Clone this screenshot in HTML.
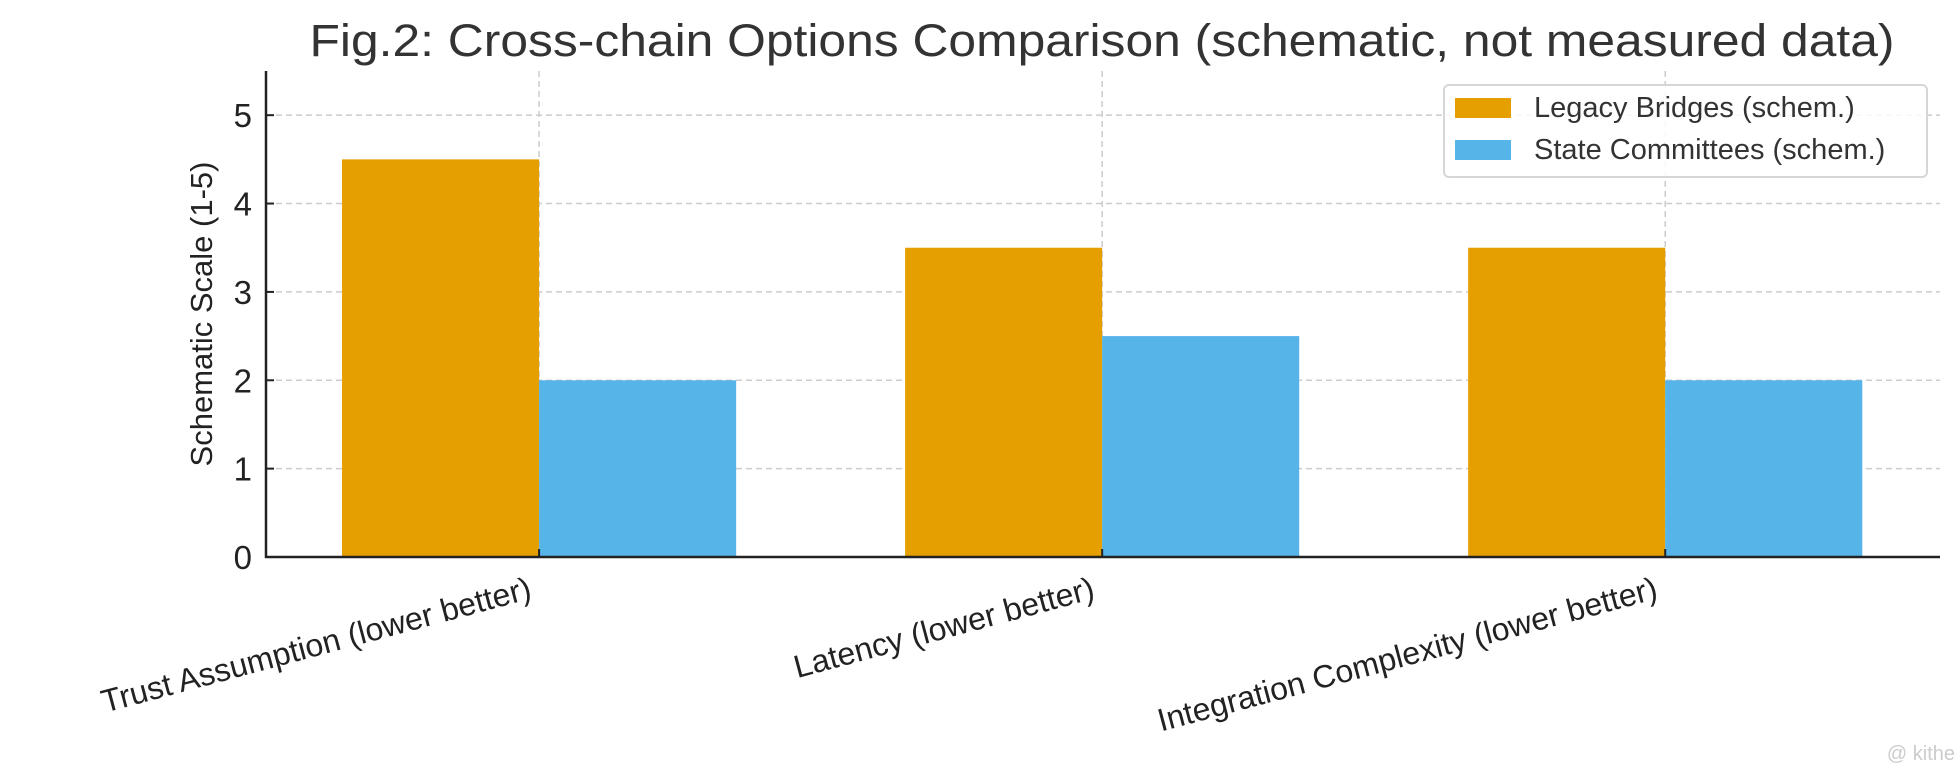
<!DOCTYPE html>
<html><head><meta charset="utf-8"><style>
html,body{margin:0;padding:0;background:#fff;}
svg{display:block;font-family:"Liberation Sans","DejaVu Sans",sans-serif;}
</style></head><body>
<svg id="chart" width="1959" height="780" viewBox="0 0 1959 780">
<text x="1102" y="56" text-anchor="middle" font-size="45" fill="#333" textLength="1585" lengthAdjust="spacingAndGlyphs">Fig.2: Cross-chain Options Comparison (schematic, not measured data)</text>
<g id="grid"></g>
<g id="bars"></g>
<g id="axes"></g>
<text transform="translate(212,314) rotate(-90)" text-anchor="middle" font-size="31" fill="#222">Schematic Scale (1-5)</text>
<g>
<rect x="1444" y="85" width="483" height="92" rx="5" fill="#fff" fill-opacity="0.85" stroke="#d6d6d6" stroke-width="2"/>
<rect x="1455" y="98" width="56" height="20" fill="#E69F00"/>
<text x="1534" y="117" font-size="29" fill="#333">Legacy Bridges (schem.)</text>
<rect x="1455" y="140" width="56" height="20" fill="#56B4E9"/>
<text x="1534" y="159" font-size="29" fill="#333">State Committees (schem.)</text>
</g>
<text x="1955" y="760" text-anchor="end" font-size="20" fill="#ccc">@ kithe</text>
</svg>
<script>
const categories = ["Trust Assumption (lower better)", "Latency (lower better)", "Integration Complexity (lower better)"];
const legacyValues = [4.5, 3.5, 3.5];
const stateValues = [2, 2.5, 2];
const yTicks = [0, 1, 2, 3, 4, 5];

const NS = "http://www.w3.org/2000/svg";
const X0 = 266, X1 = 1940, Y0 = 557, YTOP = 71;
const xMin = -0.485, xMax = 2.488, yMin = 0, yMax = 5.5;
const barW = 0.35;
function xs(v){ return X0 + (v - xMin) / (xMax - xMin) * (X1 - X0); }
function ys(v){ return Y0 - (v - yMin) / (yMax - yMin) * (Y0 - YTOP); }
function mk(tag, attrs, parent){ const e = document.createElementNS(NS, tag); for (const k in attrs) e.setAttribute(k, attrs[k]); parent.appendChild(e); return e; }

const grid = document.getElementById('grid');
const bars = document.getElementById('bars');
const axes = document.getElementById('axes');

yTicks.forEach(t => {
  if (t > 0) {
    const g = mk('line', {x1: X0, x2: X1, y1: ys(t), y2: ys(t), stroke: '#cccccc', 'stroke-width': 1.5, 'stroke-dasharray': '6,4'}, grid);
    
    
  }
  const tk = mk('line', {x1: X0, x2: X0 + 8, y1: ys(t), y2: ys(t), stroke: '#222', 'stroke-width': 2}, axes);
  
  
  const lb = mk('text', {x: X0 - 14, y: ys(t) + 12, 'text-anchor': 'end', 'font-size': 33, fill: '#222'}, axes);
  lb.textContent = t;
  
  
});

categories.forEach((c, i) => {
  const gl = mk('line', {x1: xs(i), x2: xs(i), y1: YTOP, y2: Y0, stroke: '#cccccc', 'stroke-width': 1.5, 'stroke-dasharray': '6,4'}, grid);
  
  
  const b1 = mk('rect', {x: xs(i - barW), y: ys(legacyValues[i]), width: xs(i) - xs(i - barW), height: ys(0) - ys(legacyValues[i]), fill: '#E69F00'}, bars);
  
  
  const b2 = mk('rect', {x: xs(i), y: ys(stateValues[i]), width: xs(i + barW) - xs(i), height: ys(0) - ys(stateValues[i]), fill: '#56B4E9'}, bars);
  
  
  const tk = mk('line', {x1: xs(i), x2: xs(i), y1: Y0, y2: Y0 - 8, stroke: '#222', 'stroke-width': 2}, axes);
  
  
  const lx = xs(i) - 6, ly = 598;
  const lb = mk('text', {x: lx, y: ly, 'text-anchor': 'end', 'font-size': 32, fill: '#222', transform: 'rotate(-15 ' + lx + ' ' + ly + ')'}, axes);
  lb.textContent = c;
  
  
});

const ya = mk('line', {x1: X0, x2: X0, y1: YTOP, y2: Y0 + 1, stroke: '#222', 'stroke-width': 2.5}, axes);


const xa = mk('line', {x1: X0 - 1, x2: X1, y1: Y0, y2: Y0, stroke: '#222', 'stroke-width': 2.5}, axes);


</script>
</body></html>
